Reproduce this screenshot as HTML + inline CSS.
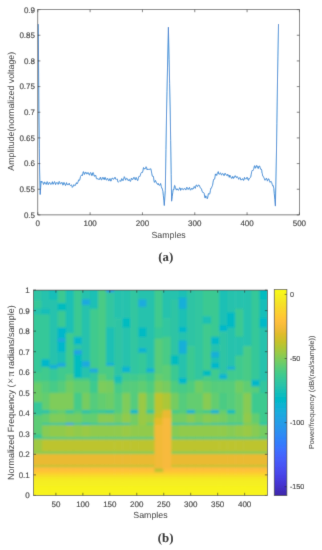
<!DOCTYPE html>
<html><head><meta charset="utf-8"><title>Figure</title>
<style>html,body{margin:0;padding:0;background:#fff;}body{width:322px;height:550px;overflow:hidden;}svg{display:block;text-rendering:geometricPrecision;}</style>
</head><body>
<svg width="322" height="550" viewBox="0 0 322 550"><defs><clipPath id="sclip"><rect x="33.4" y="290.1" width="234.10" height="205.30"/></clipPath><filter id="gblur" filterUnits="userSpaceOnUse" x="0" y="0" width="322" height="550"><feConvolveMatrix order="3" kernelMatrix="0.01000 0.08000 0.01000 0.08000 0.64000 0.08000 0.01000 0.08000 0.01000" edgeMode="duplicate"/></filter><filter id="sblur" x="-5%" y="-5%" width="110%" height="110%"><feGaussianBlur stdDeviation="1.0"/></filter><linearGradient id="cb" x1="0" y1="0" x2="0" y2="1"><stop offset="0.0000" stop-color="#f9fb15"/><stop offset="0.0312" stop-color="#f6ef20"/><stop offset="0.0625" stop-color="#f5e327"/><stop offset="0.0938" stop-color="#f9d62d"/><stop offset="0.1250" stop-color="#feca33"/><stop offset="0.1562" stop-color="#febe3c"/><stop offset="0.1875" stop-color="#f1ba37"/><stop offset="0.2188" stop-color="#debc29"/><stop offset="0.2500" stop-color="#c8c129"/><stop offset="0.2812" stop-color="#afc636"/><stop offset="0.3125" stop-color="#94ca4a"/><stop offset="0.3438" stop-color="#77cc60"/><stop offset="0.3750" stop-color="#5ccc76"/><stop offset="0.4062" stop-color="#43cb8a"/><stop offset="0.4375" stop-color="#34c79c"/><stop offset="0.4688" stop-color="#28c2ab"/><stop offset="0.5000" stop-color="#12beb9"/><stop offset="0.5312" stop-color="#00b9c6"/><stop offset="0.5625" stop-color="#0cb3d3"/><stop offset="0.5938" stop-color="#1aacdd"/><stop offset="0.6250" stop-color="#21a3e3"/><stop offset="0.6562" stop-color="#269ae9"/><stop offset="0.6875" stop-color="#2c90f0"/><stop offset="0.7188" stop-color="#2e85f8"/><stop offset="0.7500" stop-color="#347afd"/><stop offset="0.7812" stop-color="#3f6eff"/><stop offset="0.8125" stop-color="#4562fc"/><stop offset="0.8438" stop-color="#4757f7"/><stop offset="0.8750" stop-color="#484cef"/><stop offset="0.9062" stop-color="#4741e5"/><stop offset="0.9375" stop-color="#4536d5"/><stop offset="0.9688" stop-color="#422ebf"/><stop offset="1.0000" stop-color="#3e26a8"/></linearGradient></defs><g filter="url(#gblur)"><rect width="322" height="550" fill="#fff"/><polyline points="38.30,24.10 38.90,110.00 39.35,148.23 39.60,170.00 39.87,181.02 40.20,194.50 41.10,181.00 41.44,182.25 41.96,181.42 42.49,181.92 43.00,182.48 43.53,184.56 44.05,183.98 44.58,182.02 45.10,182.43 45.62,183.00 46.15,184.45 46.67,182.86 47.19,181.64 47.72,182.65 48.24,184.71 48.76,183.67 49.29,182.42 50.00,182.62 50.33,184.01 50.86,184.54 51.38,183.58 51.90,183.10 52.43,181.71 52.95,184.44 53.47,184.01 54.00,182.53 54.52,181.50 55.04,182.63 55.57,184.77 56.09,183.45 56.61,182.64 57.13,182.43 57.66,183.33 58.18,184.44 58.70,182.67 59.23,181.42 59.75,182.13 60.00,183.61 60.27,183.96 60.80,183.95 61.32,183.06 61.84,182.26 62.37,183.21 62.89,185.20 63.41,184.45 63.94,182.40 64.46,183.10 64.98,184.53 65.51,185.65 66.03,184.25 66.55,182.63 67.08,184.65 67.60,184.67 68.12,184.93 68.65,184.09 69.30,183.16 69.69,184.98 70.22,185.36 70.74,185.63 71.26,184.79 71.78,185.23 72.31,187.40 73.00,186.57 73.35,185.88 73.88,184.63 74.40,185.33 74.92,185.84 75.45,185.38 75.97,183.73 76.49,182.67 77.02,184.00 77.70,182.73 78.06,182.04 78.59,179.92 79.11,180.26 79.63,180.27 80.16,178.07 80.50,176.57 81.20,175.32 81.73,174.93 82.25,175.77 82.77,173.62 83.30,171.60 83.82,172.00 84.34,174.57 84.86,173.65 85.39,172.44 85.91,172.00 86.43,173.89 86.96,173.76 87.48,173.68 88.00,172.45 88.53,173.16 89.05,174.58 89.57,175.22 90.10,173.13 90.62,172.45 91.14,173.28 91.67,175.54 92.19,175.44 92.71,172.79 93.24,172.62 93.50,173.32 93.76,174.40 94.28,176.29 94.81,176.11 95.33,175.00 95.85,175.72 96.38,178.47 96.90,179.13 97.30,178.90 97.94,178.43 98.47,179.08 98.99,179.87 99.51,179.31 100.04,177.95 100.56,177.00 101.08,179.73 101.61,179.97 102.13,178.83 102.65,177.66 102.90,177.16 103.18,177.93 103.70,178.98 104.22,179.73 104.75,177.56 105.27,177.46 105.79,179.21 106.32,180.17 106.84,179.66 107.36,178.15 107.89,178.74 108.41,180.62 108.93,180.83 109.40,180.18 109.98,178.54 110.50,180.77 111.03,181.23 111.55,179.56 112.07,178.08 112.59,178.07 113.12,179.29 113.64,179.14 114.16,178.80 114.69,177.79 115.00,177.10 115.21,177.88 115.73,179.13 116.26,179.41 116.78,178.90 117.30,179.03 117.83,181.81 118.35,182.14 118.70,181.77 119.40,181.08 119.92,180.54 120.44,181.02 120.97,181.41 121.49,178.84 122.01,178.63 122.53,180.13 123.06,180.73 123.58,179.45 124.30,176.67 124.63,177.25 125.15,178.54 125.67,180.16 126.20,178.70 126.72,178.28 127.24,178.56 127.77,179.89 128.29,180.71 128.81,179.70 129.34,179.36 129.90,180.91 130.38,181.50 130.91,180.22 131.43,177.99 131.95,178.77 132.48,179.78 133.00,179.19 133.52,177.62 134.05,177.19 134.57,178.11 135.09,179.77 135.50,179.68 136.14,177.38 136.66,178.43 137.19,180.12 137.71,180.72 138.30,178.53 138.75,176.60 139.28,176.40 139.80,176.63 140.32,175.30 140.85,173.48 141.10,173.02 141.37,172.54 141.89,172.36 142.42,172.54 142.94,170.85 143.46,167.53 143.99,168.00 144.40,168.84 145.03,169.10 145.56,167.74 146.08,166.73 146.70,167.78 147.13,170.01 147.65,169.14 148.17,169.01 148.50,169.44 149.22,169.37 149.74,169.24 150.00,169.32 150.26,168.98 150.79,168.63 151.31,170.93 151.83,173.83 152.36,176.27 152.88,176.20 153.40,176.38 154.10,181.28 154.45,182.38 155.00,181.53 155.50,180.44 156.02,181.85 156.54,183.21 157.07,183.72 157.59,184.45 157.80,183.70 158.11,183.23 158.64,184.85 159.20,185.04 159.68,185.36 160.21,184.23 160.60,183.39 161.25,186.40 161.78,188.00 162.00,187.97 162.30,188.91 162.90,191.40 163.34,195.72 163.87,200.80 164.30,205.53 164.91,196.10 165.30,190.50 165.96,149.57 166.60,110.00 167.01,91.21 167.53,67.06 168.05,42.87 168.40,27.17 169.10,59.22 169.62,83.36 170.20,110.00 170.67,140.62 171.19,174.69 171.60,201.20 172.24,196.57 172.76,192.78 173.20,189.37 173.81,189.90 174.33,186.54 174.60,185.38 174.85,185.62 175.38,187.66 175.90,188.92 176.43,190.11 176.95,188.68 177.40,188.95 177.99,190.16 178.52,190.02 179.04,189.53 179.56,187.71 180.20,188.02 180.61,190.42 181.13,189.51 181.66,188.60 182.18,188.33 182.70,189.19 183.23,189.95 183.75,189.59 184.27,188.25 184.80,188.72 185.32,188.96 185.84,190.07 186.37,188.23 186.89,187.18 187.41,188.70 187.94,189.51 188.46,189.19 188.98,187.95 189.30,187.71 189.50,187.23 190.03,189.19 190.55,190.21 191.20,189.30 191.60,188.43 192.12,188.15 192.64,189.34 193.17,188.96 193.69,187.93 194.21,186.49 194.74,187.51 195.26,188.36 195.78,186.22 196.31,184.92 196.80,185.21 197.35,186.72 197.88,186.25 198.40,185.15 198.92,184.84 199.60,185.77 199.97,187.53 200.49,187.84 201.01,188.22 201.54,188.99 202.06,191.38 202.40,191.50 203.11,192.87 203.63,192.55 204.15,193.21 204.68,196.85 205.20,198.09 205.72,195.78 206.25,196.58 206.77,197.11 207.00,198.03 207.29,198.84 207.82,197.08 208.34,193.77 208.86,193.46 209.39,194.19 209.80,193.79 210.43,190.36 210.96,187.99 211.48,187.91 212.00,186.55 212.60,185.13 213.05,182.19 213.57,179.48 214.09,179.57 214.62,179.14 215.14,176.23 215.40,173.91 215.66,174.63 216.19,174.28 216.71,175.48 217.30,173.48 217.76,172.54 218.28,171.60 218.80,173.99 219.33,174.38 219.85,173.58 220.37,172.73 220.90,173.70 221.42,175.07 221.94,174.74 222.47,173.41 222.90,173.77 223.51,174.11 224.04,175.75 224.56,174.57 225.08,173.16 225.61,173.97 226.13,174.98 226.65,175.35 227.18,175.84 227.70,174.20 228.40,175.59 228.75,175.63 229.27,177.35 229.79,175.07 230.31,176.06 230.84,176.92 231.36,178.25 231.88,178.31 232.20,178.22 232.41,176.63 232.93,176.37 233.45,178.30 233.98,178.18 234.50,176.60 235.02,175.55 235.55,176.06 235.90,177.22 236.59,177.72 237.12,176.48 237.64,177.14 238.16,177.94 238.70,179.34 239.21,178.17 239.73,177.54 240.25,177.83 240.78,179.98 241.50,179.71 241.82,179.79 242.35,178.63 242.87,178.98 243.39,180.36 243.92,180.23 244.44,177.30 244.96,178.34 245.49,178.96 246.20,178.96 246.53,178.67 247.06,177.12 247.58,178.28 248.10,180.04 248.63,180.36 249.15,178.03 249.50,178.48 250.20,177.77 250.72,177.02 251.24,174.18 251.80,171.24 252.29,170.31 252.81,170.82 253.34,169.78 253.86,168.41 254.38,165.92 254.60,165.64 254.91,166.18 255.43,168.26 255.95,167.38 256.40,165.58 257.00,165.51 257.52,167.41 258.04,168.50 258.30,168.55 258.57,167.03 259.09,165.98 259.61,166.00 260.20,167.93 260.66,169.24 261.18,169.00 261.71,170.11 262.00,172.98 262.23,173.39 262.75,176.09 263.28,176.32 263.90,177.76 264.32,178.60 264.85,180.25 265.37,180.03 265.89,179.29 266.42,177.99 266.70,178.95 266.94,179.39 267.46,181.13 267.99,180.00 268.51,178.68 269.03,179.35 269.50,180.62 270.08,182.36 270.60,181.51 271.12,181.36 271.65,182.53 272.30,184.68 272.69,185.90 273.22,185.48 273.80,188.40 274.26,193.52 274.79,199.31 275.40,206.10 275.83,184.02 276.50,150.00 276.88,123.47 277.50,80.00 277.93,56.14 278.50,24.00" fill="none" stroke="#0a70cc" stroke-width="0.8" stroke-linejoin="round"/><rect x="37.8" y="9.6" width="261.60" height="205.30" fill="none" stroke="#262626" stroke-width="0.6"/><g stroke="#262626" stroke-width="0.6"><line x1="37.8" y1="214.90" x2="40.4" y2="214.90"/><line x1="299.4" y1="214.90" x2="296.79999999999995" y2="214.90"/><line x1="37.8" y1="189.24" x2="40.4" y2="189.24"/><line x1="299.4" y1="189.24" x2="296.79999999999995" y2="189.24"/><line x1="37.8" y1="163.58" x2="40.4" y2="163.58"/><line x1="299.4" y1="163.58" x2="296.79999999999995" y2="163.58"/><line x1="37.8" y1="137.91" x2="40.4" y2="137.91"/><line x1="299.4" y1="137.91" x2="296.79999999999995" y2="137.91"/><line x1="37.8" y1="112.25" x2="40.4" y2="112.25"/><line x1="299.4" y1="112.25" x2="296.79999999999995" y2="112.25"/><line x1="37.8" y1="86.59" x2="40.4" y2="86.59"/><line x1="299.4" y1="86.59" x2="296.79999999999995" y2="86.59"/><line x1="37.8" y1="60.92" x2="40.4" y2="60.92"/><line x1="299.4" y1="60.92" x2="296.79999999999995" y2="60.92"/><line x1="37.8" y1="35.26" x2="40.4" y2="35.26"/><line x1="299.4" y1="35.26" x2="296.79999999999995" y2="35.26"/><line x1="37.8" y1="9.60" x2="40.4" y2="9.60"/><line x1="299.4" y1="9.60" x2="296.79999999999995" y2="9.60"/><line x1="37.80" y1="214.9" x2="37.80" y2="212.3"/><line x1="37.80" y1="9.6" x2="37.80" y2="12.2"/><line x1="90.12" y1="214.9" x2="90.12" y2="212.3"/><line x1="90.12" y1="9.6" x2="90.12" y2="12.2"/><line x1="142.44" y1="214.9" x2="142.44" y2="212.3"/><line x1="142.44" y1="9.6" x2="142.44" y2="12.2"/><line x1="194.76" y1="214.9" x2="194.76" y2="212.3"/><line x1="194.76" y1="9.6" x2="194.76" y2="12.2"/><line x1="247.08" y1="214.9" x2="247.08" y2="212.3"/><line x1="247.08" y1="9.6" x2="247.08" y2="12.2"/><line x1="299.40" y1="214.9" x2="299.40" y2="212.3"/><line x1="299.40" y1="9.6" x2="299.40" y2="12.2"/></g><g style="font-family:'Liberation Sans',Arial,Helvetica,sans-serif;stroke:#262626;stroke-width:0.12px;font-size:8px" fill="#262626"><text x="35" y="217.80" text-anchor="end">0.5</text><text x="35" y="192.14" text-anchor="end">0.55</text><text x="35" y="166.48" text-anchor="end">0.6</text><text x="35" y="140.81" text-anchor="end">0.65</text><text x="35" y="115.15" text-anchor="end">0.7</text><text x="35" y="89.49" text-anchor="end">0.75</text><text x="35" y="63.82" text-anchor="end">0.8</text><text x="35" y="38.16" text-anchor="end">0.85</text><text x="35" y="12.50" text-anchor="end">0.9</text><text x="37.80" y="226" text-anchor="middle">0</text><text x="90.12" y="226" text-anchor="middle">100</text><text x="142.44" y="226" text-anchor="middle">200</text><text x="194.76" y="226" text-anchor="middle">300</text><text x="247.08" y="226" text-anchor="middle">400</text><text x="299.40" y="226" text-anchor="middle">500</text></g><text x="168.6" y="238" text-anchor="middle" style="font-family:'Liberation Sans',Arial,Helvetica,sans-serif;font-size:8.8px" fill="#262626">Samples</text><text transform="translate(14.3,111.3) rotate(-90)" text-anchor="middle" style="font-family:'Liberation Sans',Arial,Helvetica,sans-serif;font-size:8.8px" fill="#262626">Amplitude(normalized voltage)</text><text x="165.8" y="260.5" text-anchor="middle" style="font-family:'Liberation Serif',serif;font-weight:bold;font-size:12.8px" fill="#000">(a)</text><g clip-path="url(#sclip)"><g filter="url(#sblur)"><rect x="30.40" y="287.10" width="11.67" height="13.80" fill="#2ec4a4"/>
<rect x="30.40" y="300.30" width="11.67" height="9.03" fill="#36c899"/>
<rect x="30.40" y="308.73" width="11.67" height="6.22" fill="#26c2ad"/>
<rect x="30.40" y="314.34" width="11.67" height="58.65" fill="#36c899"/>
<rect x="30.40" y="372.40" width="11.67" height="9.20" fill="#43cb8a"/>
<rect x="30.40" y="381.00" width="11.67" height="3.23" fill="#5bcc77"/>
<rect x="30.40" y="383.63" width="11.67" height="9.87" fill="#6bcd69"/>
<rect x="30.40" y="392.90" width="11.67" height="17.70" fill="#64cd6f"/>
<rect x="30.40" y="410.00" width="11.67" height="4.10" fill="#3eca8f"/>
<rect x="30.40" y="413.50" width="11.67" height="10.10" fill="#64cd6f"/>
<rect x="30.40" y="423.00" width="11.67" height="2.60" fill="#64cd6f"/>
<rect x="30.40" y="425.00" width="11.67" height="12.90" fill="#64cd6f"/>
<rect x="30.40" y="437.30" width="11.67" height="2.60" fill="#41ca8c"/>
<rect x="30.40" y="439.30" width="11.67" height="12.80" fill="#bdc42e"/>
<rect x="30.40" y="451.50" width="11.67" height="3.10" fill="#7fcc5a"/>
<rect x="30.40" y="454.00" width="11.67" height="11.80" fill="#eaba30"/>
<rect x="30.40" y="465.20" width="11.67" height="2.50" fill="#b9c431"/>
<rect x="30.40" y="467.10" width="11.67" height="3.50" fill="#febd3d"/>
<rect x="30.40" y="470.00" width="11.67" height="2.60" fill="#fec239"/>
<rect x="30.40" y="472.00" width="11.67" height="2.60" fill="#fdcc32"/>
<rect x="30.40" y="474.00" width="11.67" height="2.60" fill="#f9d82c"/>
<rect x="30.40" y="476.00" width="11.67" height="2.60" fill="#f5e227"/>
<rect x="30.40" y="478.00" width="11.67" height="3.60" fill="#f5ea24"/>
<rect x="30.40" y="481.00" width="11.67" height="5.60" fill="#f5ef20"/>
<rect x="30.40" y="486.00" width="11.67" height="13.00" fill="#f7f31d"/>
<rect x="41.47" y="287.10" width="8.67" height="22.23" fill="#26c2ad"/>
<rect x="41.47" y="308.73" width="8.67" height="6.22" fill="#13beb9"/>
<rect x="41.47" y="314.34" width="8.67" height="45.54" fill="#36c899"/>
<rect x="41.47" y="359.29" width="8.67" height="8.09" fill="#02b7cc"/>
<rect x="41.47" y="366.78" width="8.67" height="14.82" fill="#3fca8e"/>
<rect x="41.47" y="381.00" width="8.67" height="12.50" fill="#56cc7b"/>
<rect x="41.47" y="392.90" width="8.67" height="17.70" fill="#64cd6f"/>
<rect x="41.47" y="410.00" width="8.67" height="4.10" fill="#2ac3a9"/>
<rect x="41.47" y="413.50" width="8.67" height="10.10" fill="#64cd6f"/>
<rect x="41.47" y="423.00" width="8.67" height="2.60" fill="#31c6a0"/>
<rect x="41.47" y="425.00" width="8.67" height="12.90" fill="#88cb53"/>
<rect x="41.47" y="437.30" width="8.67" height="2.60" fill="#41ca8c"/>
<rect x="41.47" y="439.30" width="8.67" height="12.80" fill="#bdc42e"/>
<rect x="41.47" y="451.50" width="8.67" height="3.10" fill="#7fcc5a"/>
<rect x="41.47" y="454.00" width="8.67" height="11.80" fill="#eaba30"/>
<rect x="41.47" y="465.20" width="8.67" height="2.50" fill="#b9c431"/>
<rect x="41.47" y="467.10" width="8.67" height="3.50" fill="#febd3d"/>
<rect x="41.47" y="470.00" width="8.67" height="2.60" fill="#fec239"/>
<rect x="41.47" y="472.00" width="8.67" height="2.60" fill="#fdcc32"/>
<rect x="41.47" y="474.00" width="8.67" height="2.60" fill="#f9d82c"/>
<rect x="41.47" y="476.00" width="8.67" height="2.60" fill="#f5e227"/>
<rect x="41.47" y="478.00" width="8.67" height="3.60" fill="#f5ea24"/>
<rect x="41.47" y="481.00" width="8.67" height="5.60" fill="#f5ef20"/>
<rect x="41.47" y="486.00" width="8.67" height="13.00" fill="#f7f31d"/>
<rect x="49.54" y="287.10" width="8.67" height="12.86" fill="#13beb9"/>
<rect x="49.54" y="299.36" width="8.67" height="66.14" fill="#26c2ad"/>
<rect x="49.54" y="364.91" width="8.67" height="4.35" fill="#16afd9"/>
<rect x="49.54" y="368.65" width="8.67" height="12.95" fill="#36c899"/>
<rect x="49.54" y="381.00" width="8.67" height="12.50" fill="#46cb88"/>
<rect x="49.54" y="392.90" width="8.67" height="17.70" fill="#7fcc5a"/>
<rect x="49.54" y="410.00" width="8.67" height="4.10" fill="#54cc7d"/>
<rect x="49.54" y="413.50" width="8.67" height="10.10" fill="#7fcc5a"/>
<rect x="49.54" y="423.00" width="8.67" height="2.60" fill="#31c6a0"/>
<rect x="49.54" y="425.00" width="8.67" height="12.90" fill="#91ca4c"/>
<rect x="49.54" y="437.30" width="8.67" height="2.60" fill="#41ca8c"/>
<rect x="49.54" y="439.30" width="8.67" height="12.80" fill="#bdc42e"/>
<rect x="49.54" y="451.50" width="8.67" height="3.10" fill="#7fcc5a"/>
<rect x="49.54" y="454.00" width="8.67" height="11.80" fill="#eaba30"/>
<rect x="49.54" y="465.20" width="8.67" height="2.50" fill="#b9c431"/>
<rect x="49.54" y="467.10" width="8.67" height="3.50" fill="#febd3d"/>
<rect x="49.54" y="470.00" width="8.67" height="2.60" fill="#fec239"/>
<rect x="49.54" y="472.00" width="8.67" height="2.60" fill="#fdcc32"/>
<rect x="49.54" y="474.00" width="8.67" height="2.60" fill="#f9d82c"/>
<rect x="49.54" y="476.00" width="8.67" height="2.60" fill="#f5e227"/>
<rect x="49.54" y="478.00" width="8.67" height="3.60" fill="#f5ea24"/>
<rect x="49.54" y="481.00" width="8.67" height="5.60" fill="#f5ef20"/>
<rect x="49.54" y="486.00" width="8.67" height="13.00" fill="#f7f31d"/>
<rect x="57.62" y="287.10" width="8.67" height="16.61" fill="#3bc992"/>
<rect x="57.62" y="303.11" width="8.67" height="8.09" fill="#05bcc0"/>
<rect x="57.62" y="310.60" width="8.67" height="17.45" fill="#3bc992"/>
<rect x="57.62" y="327.45" width="8.67" height="11.84" fill="#02b7cc"/>
<rect x="57.62" y="338.69" width="8.67" height="3.41" fill="#21a3e3"/>
<rect x="57.62" y="341.50" width="8.67" height="10.90" fill="#02b7cc"/>
<rect x="57.62" y="351.80" width="8.67" height="11.84" fill="#1ac0b5"/>
<rect x="57.62" y="363.03" width="8.67" height="4.35" fill="#1da8e0"/>
<rect x="57.62" y="366.78" width="8.67" height="14.82" fill="#3fca8e"/>
<rect x="57.62" y="381.00" width="8.67" height="12.50" fill="#56cc7b"/>
<rect x="57.62" y="392.90" width="8.67" height="17.70" fill="#7fcc5a"/>
<rect x="57.62" y="410.00" width="8.67" height="4.10" fill="#64cd6f"/>
<rect x="57.62" y="413.50" width="8.67" height="10.10" fill="#7fcc5a"/>
<rect x="57.62" y="423.00" width="8.67" height="2.60" fill="#2ac3a9"/>
<rect x="57.62" y="425.00" width="8.67" height="12.90" fill="#91ca4c"/>
<rect x="57.62" y="437.30" width="8.67" height="2.60" fill="#41ca8c"/>
<rect x="57.62" y="439.30" width="8.67" height="12.80" fill="#bdc42e"/>
<rect x="57.62" y="451.50" width="8.67" height="3.10" fill="#7fcc5a"/>
<rect x="57.62" y="454.00" width="8.67" height="11.80" fill="#eaba30"/>
<rect x="57.62" y="465.20" width="8.67" height="2.50" fill="#b9c431"/>
<rect x="57.62" y="467.10" width="8.67" height="3.50" fill="#febd3d"/>
<rect x="57.62" y="470.00" width="8.67" height="2.60" fill="#fec239"/>
<rect x="57.62" y="472.00" width="8.67" height="2.60" fill="#fdcc32"/>
<rect x="57.62" y="474.00" width="8.67" height="2.60" fill="#f9d82c"/>
<rect x="57.62" y="476.00" width="8.67" height="2.60" fill="#f5e227"/>
<rect x="57.62" y="478.00" width="8.67" height="3.60" fill="#f5ea24"/>
<rect x="57.62" y="481.00" width="8.67" height="5.60" fill="#f5ef20"/>
<rect x="57.62" y="486.00" width="8.67" height="13.00" fill="#f7f31d"/>
<rect x="65.69" y="287.10" width="8.67" height="46.57" fill="#1ac0b5"/>
<rect x="65.69" y="333.07" width="8.67" height="41.80" fill="#3fca8e"/>
<rect x="65.69" y="374.27" width="8.67" height="7.33" fill="#58cc79"/>
<rect x="65.69" y="381.00" width="8.67" height="12.50" fill="#71cd64"/>
<rect x="65.69" y="392.90" width="8.67" height="17.70" fill="#7fcc5a"/>
<rect x="65.69" y="410.00" width="8.67" height="4.10" fill="#31c6a0"/>
<rect x="65.69" y="413.50" width="8.67" height="10.10" fill="#76cc61"/>
<rect x="65.69" y="423.00" width="8.67" height="2.60" fill="#1fa6e2"/>
<rect x="65.69" y="425.00" width="8.67" height="12.90" fill="#9ac945"/>
<rect x="65.69" y="437.30" width="8.67" height="2.60" fill="#41ca8c"/>
<rect x="65.69" y="439.30" width="8.67" height="12.80" fill="#bdc42e"/>
<rect x="65.69" y="451.50" width="8.67" height="3.10" fill="#7fcc5a"/>
<rect x="65.69" y="454.00" width="8.67" height="11.80" fill="#eaba30"/>
<rect x="65.69" y="465.20" width="8.67" height="2.50" fill="#b9c431"/>
<rect x="65.69" y="467.10" width="8.67" height="3.50" fill="#febd3d"/>
<rect x="65.69" y="470.00" width="8.67" height="2.60" fill="#fec239"/>
<rect x="65.69" y="472.00" width="8.67" height="2.60" fill="#fdcc32"/>
<rect x="65.69" y="474.00" width="8.67" height="2.60" fill="#f9d82c"/>
<rect x="65.69" y="476.00" width="8.67" height="2.60" fill="#f5e227"/>
<rect x="65.69" y="478.00" width="8.67" height="3.60" fill="#f5ea24"/>
<rect x="65.69" y="481.00" width="8.67" height="5.60" fill="#f5ef20"/>
<rect x="65.69" y="486.00" width="8.67" height="13.00" fill="#f7f31d"/>
<rect x="73.76" y="287.10" width="8.67" height="50.32" fill="#3bc992"/>
<rect x="73.76" y="336.82" width="8.67" height="8.09" fill="#02b7cc"/>
<rect x="73.76" y="344.31" width="8.67" height="6.22" fill="#2ec4a4"/>
<rect x="73.76" y="349.93" width="8.67" height="5.28" fill="#21a3e3"/>
<rect x="73.76" y="354.61" width="8.67" height="24.01" fill="#05bcc0"/>
<rect x="73.76" y="378.01" width="8.67" height="3.59" fill="#48cb86"/>
<rect x="73.76" y="381.00" width="8.67" height="12.50" fill="#60cd72"/>
<rect x="73.76" y="392.90" width="8.67" height="17.70" fill="#44cb89"/>
<rect x="73.76" y="410.00" width="8.67" height="4.10" fill="#54cc7d"/>
<rect x="73.76" y="413.50" width="8.67" height="10.10" fill="#76cc61"/>
<rect x="73.76" y="423.00" width="8.67" height="2.60" fill="#31c6a0"/>
<rect x="73.76" y="425.00" width="8.67" height="12.90" fill="#91ca4c"/>
<rect x="73.76" y="437.30" width="8.67" height="2.60" fill="#41ca8c"/>
<rect x="73.76" y="439.30" width="8.67" height="12.80" fill="#bdc42e"/>
<rect x="73.76" y="451.50" width="8.67" height="3.10" fill="#7fcc5a"/>
<rect x="73.76" y="454.00" width="8.67" height="11.80" fill="#eaba30"/>
<rect x="73.76" y="465.20" width="8.67" height="2.50" fill="#b9c431"/>
<rect x="73.76" y="467.10" width="8.67" height="3.50" fill="#febd3d"/>
<rect x="73.76" y="470.00" width="8.67" height="2.60" fill="#fec239"/>
<rect x="73.76" y="472.00" width="8.67" height="2.60" fill="#fdcc32"/>
<rect x="73.76" y="474.00" width="8.67" height="2.60" fill="#f9d82c"/>
<rect x="73.76" y="476.00" width="8.67" height="2.60" fill="#f5e227"/>
<rect x="73.76" y="478.00" width="8.67" height="3.60" fill="#f5ea24"/>
<rect x="73.76" y="481.00" width="8.67" height="5.60" fill="#f5ef20"/>
<rect x="73.76" y="486.00" width="8.67" height="13.00" fill="#f7f31d"/>
<rect x="81.83" y="287.10" width="8.67" height="12.86" fill="#26c2ad"/>
<rect x="81.83" y="299.36" width="8.67" height="6.22" fill="#1da8e0"/>
<rect x="81.83" y="304.98" width="8.67" height="56.78" fill="#26c2ad"/>
<rect x="81.83" y="361.16" width="8.67" height="6.22" fill="#1da8e0"/>
<rect x="81.83" y="366.78" width="8.67" height="11.84" fill="#26c2ad"/>
<rect x="81.83" y="378.01" width="8.67" height="3.59" fill="#48cb86"/>
<rect x="81.83" y="381.00" width="8.67" height="12.50" fill="#60cd72"/>
<rect x="81.83" y="392.90" width="8.67" height="17.70" fill="#76cc61"/>
<rect x="81.83" y="410.00" width="8.67" height="4.10" fill="#2ac3a9"/>
<rect x="81.83" y="413.50" width="8.67" height="10.10" fill="#64cd6f"/>
<rect x="81.83" y="423.00" width="8.67" height="2.60" fill="#06bcc0"/>
<rect x="81.83" y="425.00" width="8.67" height="12.90" fill="#9ac945"/>
<rect x="81.83" y="437.30" width="8.67" height="2.60" fill="#41ca8c"/>
<rect x="81.83" y="439.30" width="8.67" height="12.80" fill="#bdc42e"/>
<rect x="81.83" y="451.50" width="8.67" height="3.10" fill="#7fcc5a"/>
<rect x="81.83" y="454.00" width="8.67" height="11.80" fill="#eaba30"/>
<rect x="81.83" y="465.20" width="8.67" height="2.50" fill="#b9c431"/>
<rect x="81.83" y="467.10" width="8.67" height="3.50" fill="#febd3d"/>
<rect x="81.83" y="470.00" width="8.67" height="2.60" fill="#fec239"/>
<rect x="81.83" y="472.00" width="8.67" height="2.60" fill="#fdcc32"/>
<rect x="81.83" y="474.00" width="8.67" height="2.60" fill="#f9d82c"/>
<rect x="81.83" y="476.00" width="8.67" height="2.60" fill="#f5e227"/>
<rect x="81.83" y="478.00" width="8.67" height="3.60" fill="#f5ea24"/>
<rect x="81.83" y="481.00" width="8.67" height="5.60" fill="#f5ef20"/>
<rect x="81.83" y="486.00" width="8.67" height="13.00" fill="#f7f31d"/>
<rect x="89.91" y="287.10" width="8.67" height="22.23" fill="#1ac0b5"/>
<rect x="89.91" y="308.73" width="8.67" height="60.53" fill="#3fca8e"/>
<rect x="89.91" y="368.65" width="8.67" height="4.35" fill="#1da8e0"/>
<rect x="89.91" y="372.40" width="8.67" height="9.20" fill="#31c6a0"/>
<rect x="89.91" y="381.00" width="8.67" height="12.50" fill="#3eca8f"/>
<rect x="89.91" y="392.90" width="8.67" height="17.70" fill="#54cc7d"/>
<rect x="89.91" y="410.00" width="8.67" height="4.10" fill="#3eca8f"/>
<rect x="89.91" y="413.50" width="8.67" height="10.10" fill="#64cd6f"/>
<rect x="89.91" y="423.00" width="8.67" height="2.60" fill="#31c6a0"/>
<rect x="89.91" y="425.00" width="8.67" height="12.90" fill="#91ca4c"/>
<rect x="89.91" y="437.30" width="8.67" height="2.60" fill="#41ca8c"/>
<rect x="89.91" y="439.30" width="8.67" height="12.80" fill="#bdc42e"/>
<rect x="89.91" y="451.50" width="8.67" height="3.10" fill="#7fcc5a"/>
<rect x="89.91" y="454.00" width="8.67" height="11.80" fill="#eaba30"/>
<rect x="89.91" y="465.20" width="8.67" height="2.50" fill="#b9c431"/>
<rect x="89.91" y="467.10" width="8.67" height="3.50" fill="#febd3d"/>
<rect x="89.91" y="470.00" width="8.67" height="2.60" fill="#fec239"/>
<rect x="89.91" y="472.00" width="8.67" height="2.60" fill="#fdcc32"/>
<rect x="89.91" y="474.00" width="8.67" height="2.60" fill="#f9d82c"/>
<rect x="89.91" y="476.00" width="8.67" height="2.60" fill="#f5e227"/>
<rect x="89.91" y="478.00" width="8.67" height="3.60" fill="#f5ea24"/>
<rect x="89.91" y="481.00" width="8.67" height="5.60" fill="#f5ef20"/>
<rect x="89.91" y="486.00" width="8.67" height="13.00" fill="#f7f31d"/>
<rect x="97.98" y="287.10" width="8.67" height="87.77" fill="#48cb86"/>
<rect x="97.98" y="374.27" width="8.67" height="7.33" fill="#62cd70"/>
<rect x="97.98" y="381.00" width="8.67" height="12.50" fill="#7dcc5b"/>
<rect x="97.98" y="392.90" width="8.67" height="17.70" fill="#64cd6f"/>
<rect x="97.98" y="410.00" width="8.67" height="4.10" fill="#35c79b"/>
<rect x="97.98" y="413.50" width="8.67" height="10.10" fill="#88cb53"/>
<rect x="97.98" y="423.00" width="8.67" height="2.60" fill="#31c6a0"/>
<rect x="97.98" y="425.00" width="8.67" height="12.90" fill="#91ca4c"/>
<rect x="97.98" y="437.30" width="8.67" height="2.60" fill="#41ca8c"/>
<rect x="97.98" y="439.30" width="8.67" height="12.80" fill="#bdc42e"/>
<rect x="97.98" y="451.50" width="8.67" height="3.10" fill="#7fcc5a"/>
<rect x="97.98" y="454.00" width="8.67" height="11.80" fill="#eaba30"/>
<rect x="97.98" y="465.20" width="8.67" height="2.50" fill="#b9c431"/>
<rect x="97.98" y="467.10" width="8.67" height="3.50" fill="#febd3d"/>
<rect x="97.98" y="470.00" width="8.67" height="2.60" fill="#fec239"/>
<rect x="97.98" y="472.00" width="8.67" height="2.60" fill="#fdcc32"/>
<rect x="97.98" y="474.00" width="8.67" height="2.60" fill="#f9d82c"/>
<rect x="97.98" y="476.00" width="8.67" height="2.60" fill="#f5e227"/>
<rect x="97.98" y="478.00" width="8.67" height="3.60" fill="#f5ea24"/>
<rect x="97.98" y="481.00" width="8.67" height="5.60" fill="#f5ef20"/>
<rect x="97.98" y="486.00" width="8.67" height="13.00" fill="#f7f31d"/>
<rect x="106.05" y="287.10" width="8.67" height="5.75" fill="#259be8"/>
<rect x="106.05" y="292.25" width="8.67" height="35.81" fill="#31c6a0"/>
<rect x="106.05" y="327.45" width="8.67" height="36.18" fill="#1ac0b5"/>
<rect x="106.05" y="363.03" width="8.67" height="3.41" fill="#16afd9"/>
<rect x="106.05" y="365.84" width="8.67" height="14.64" fill="#48cb86"/>
<rect x="106.05" y="379.89" width="8.67" height="1.71" fill="#5dcd75"/>
<rect x="106.05" y="381.00" width="8.67" height="12.50" fill="#77cc60"/>
<rect x="106.05" y="392.90" width="8.67" height="17.70" fill="#6ccd68"/>
<rect x="106.05" y="410.00" width="8.67" height="4.10" fill="#2ac3a9"/>
<rect x="106.05" y="413.50" width="8.67" height="10.10" fill="#88cb53"/>
<rect x="106.05" y="423.00" width="8.67" height="2.60" fill="#2ac3a9"/>
<rect x="106.05" y="425.00" width="8.67" height="12.90" fill="#91ca4c"/>
<rect x="106.05" y="437.30" width="8.67" height="2.60" fill="#41ca8c"/>
<rect x="106.05" y="439.30" width="8.67" height="12.80" fill="#bdc42e"/>
<rect x="106.05" y="451.50" width="8.67" height="3.10" fill="#7fcc5a"/>
<rect x="106.05" y="454.00" width="8.67" height="11.80" fill="#eaba30"/>
<rect x="106.05" y="465.20" width="8.67" height="2.50" fill="#b9c431"/>
<rect x="106.05" y="467.10" width="8.67" height="3.50" fill="#febd3d"/>
<rect x="106.05" y="470.00" width="8.67" height="2.60" fill="#fec239"/>
<rect x="106.05" y="472.00" width="8.67" height="2.60" fill="#fdcc32"/>
<rect x="106.05" y="474.00" width="8.67" height="2.60" fill="#f9d82c"/>
<rect x="106.05" y="476.00" width="8.67" height="2.60" fill="#f5e227"/>
<rect x="106.05" y="478.00" width="8.67" height="3.60" fill="#f5ea24"/>
<rect x="106.05" y="481.00" width="8.67" height="5.60" fill="#f5ef20"/>
<rect x="106.05" y="486.00" width="8.67" height="13.00" fill="#f7f31d"/>
<rect x="114.12" y="287.10" width="8.67" height="31.59" fill="#26c2ad"/>
<rect x="114.12" y="318.09" width="8.67" height="58.65" fill="#2ec4a4"/>
<rect x="114.12" y="376.14" width="8.67" height="5.46" fill="#13beb9"/>
<rect x="114.12" y="381.00" width="8.67" height="3.23" fill="#28c2ab"/>
<rect x="114.12" y="383.63" width="8.67" height="9.87" fill="#46cb88"/>
<rect x="114.12" y="392.90" width="8.67" height="17.70" fill="#54cc7d"/>
<rect x="114.12" y="410.00" width="8.67" height="4.10" fill="#54cc7d"/>
<rect x="114.12" y="413.50" width="8.67" height="10.10" fill="#76cc61"/>
<rect x="114.12" y="423.00" width="8.67" height="2.60" fill="#31c6a0"/>
<rect x="114.12" y="425.00" width="8.67" height="12.90" fill="#91ca4c"/>
<rect x="114.12" y="437.30" width="8.67" height="2.60" fill="#41ca8c"/>
<rect x="114.12" y="439.30" width="8.67" height="12.80" fill="#bdc42e"/>
<rect x="114.12" y="451.50" width="8.67" height="3.10" fill="#7fcc5a"/>
<rect x="114.12" y="454.00" width="8.67" height="11.80" fill="#eaba30"/>
<rect x="114.12" y="465.20" width="8.67" height="2.50" fill="#b9c431"/>
<rect x="114.12" y="467.10" width="8.67" height="3.50" fill="#febd3d"/>
<rect x="114.12" y="470.00" width="8.67" height="2.60" fill="#fec239"/>
<rect x="114.12" y="472.00" width="8.67" height="2.60" fill="#fdcc32"/>
<rect x="114.12" y="474.00" width="8.67" height="2.60" fill="#f9d82c"/>
<rect x="114.12" y="476.00" width="8.67" height="2.60" fill="#f5e227"/>
<rect x="114.12" y="478.00" width="8.67" height="3.60" fill="#f5ea24"/>
<rect x="114.12" y="481.00" width="8.67" height="5.60" fill="#f5ef20"/>
<rect x="114.12" y="486.00" width="8.67" height="13.00" fill="#f7f31d"/>
<rect x="122.20" y="287.10" width="8.67" height="31.59" fill="#26c2ad"/>
<rect x="122.20" y="318.09" width="8.67" height="9.96" fill="#05bcc0"/>
<rect x="122.20" y="327.45" width="8.67" height="39.93" fill="#26c2ad"/>
<rect x="122.20" y="366.78" width="8.67" height="6.22" fill="#0cb3d3"/>
<rect x="122.20" y="372.40" width="8.67" height="9.20" fill="#3fca8e"/>
<rect x="122.20" y="381.00" width="8.67" height="12.50" fill="#56cc7b"/>
<rect x="122.20" y="392.90" width="8.67" height="17.70" fill="#7fcc5a"/>
<rect x="122.20" y="410.00" width="8.67" height="4.10" fill="#7fcc5a"/>
<rect x="122.20" y="413.50" width="8.67" height="10.10" fill="#91ca4c"/>
<rect x="122.20" y="423.00" width="8.67" height="2.60" fill="#31c6a0"/>
<rect x="122.20" y="425.00" width="8.67" height="12.90" fill="#9ac945"/>
<rect x="122.20" y="437.30" width="8.67" height="2.60" fill="#41ca8c"/>
<rect x="122.20" y="439.30" width="8.67" height="12.80" fill="#bdc42e"/>
<rect x="122.20" y="451.50" width="8.67" height="3.10" fill="#7fcc5a"/>
<rect x="122.20" y="454.00" width="8.67" height="11.80" fill="#eaba30"/>
<rect x="122.20" y="465.20" width="8.67" height="2.50" fill="#b9c431"/>
<rect x="122.20" y="467.10" width="8.67" height="3.50" fill="#febd3d"/>
<rect x="122.20" y="470.00" width="8.67" height="2.60" fill="#fec239"/>
<rect x="122.20" y="472.00" width="8.67" height="2.60" fill="#fdcc32"/>
<rect x="122.20" y="474.00" width="8.67" height="2.60" fill="#f9d82c"/>
<rect x="122.20" y="476.00" width="8.67" height="2.60" fill="#f5e227"/>
<rect x="122.20" y="478.00" width="8.67" height="3.60" fill="#f5ea24"/>
<rect x="122.20" y="481.00" width="8.67" height="5.60" fill="#f5ef20"/>
<rect x="122.20" y="486.00" width="8.67" height="13.00" fill="#f7f31d"/>
<rect x="130.27" y="287.10" width="8.67" height="87.77" fill="#31c6a0"/>
<rect x="130.27" y="374.27" width="8.67" height="7.33" fill="#3fca8e"/>
<rect x="130.27" y="381.00" width="8.67" height="12.50" fill="#56cc7b"/>
<rect x="130.27" y="392.90" width="8.67" height="17.70" fill="#54cc7d"/>
<rect x="130.27" y="410.00" width="8.67" height="4.10" fill="#02b7cc"/>
<rect x="130.27" y="413.50" width="8.67" height="10.10" fill="#76cc61"/>
<rect x="130.27" y="423.00" width="8.67" height="2.60" fill="#64cd6f"/>
<rect x="130.27" y="425.00" width="8.67" height="12.90" fill="#91ca4c"/>
<rect x="130.27" y="437.30" width="8.67" height="2.60" fill="#41ca8c"/>
<rect x="130.27" y="439.30" width="8.67" height="12.80" fill="#bdc42e"/>
<rect x="130.27" y="451.50" width="8.67" height="3.10" fill="#7fcc5a"/>
<rect x="130.27" y="454.00" width="8.67" height="11.80" fill="#eaba30"/>
<rect x="130.27" y="465.20" width="8.67" height="2.50" fill="#b9c431"/>
<rect x="130.27" y="467.10" width="8.67" height="3.50" fill="#febd3d"/>
<rect x="130.27" y="470.00" width="8.67" height="2.60" fill="#fec239"/>
<rect x="130.27" y="472.00" width="8.67" height="2.60" fill="#fdcc32"/>
<rect x="130.27" y="474.00" width="8.67" height="2.60" fill="#f9d82c"/>
<rect x="130.27" y="476.00" width="8.67" height="2.60" fill="#f5e227"/>
<rect x="130.27" y="478.00" width="8.67" height="3.60" fill="#f5ea24"/>
<rect x="130.27" y="481.00" width="8.67" height="5.60" fill="#f5ef20"/>
<rect x="130.27" y="486.00" width="8.67" height="13.00" fill="#f7f31d"/>
<rect x="138.34" y="287.10" width="8.67" height="12.86" fill="#26c2ad"/>
<rect x="138.34" y="299.36" width="8.67" height="8.09" fill="#1babde"/>
<rect x="138.34" y="306.85" width="8.67" height="21.20" fill="#26c2ad"/>
<rect x="138.34" y="327.45" width="8.67" height="9.96" fill="#01bac4"/>
<rect x="138.34" y="336.82" width="8.67" height="11.84" fill="#26c2ad"/>
<rect x="138.34" y="348.05" width="8.67" height="5.28" fill="#0cb3d3"/>
<rect x="138.34" y="352.73" width="8.67" height="22.14" fill="#36c899"/>
<rect x="138.34" y="374.27" width="8.67" height="7.33" fill="#48cb86"/>
<rect x="138.34" y="381.00" width="8.67" height="12.50" fill="#60cd72"/>
<rect x="138.34" y="392.90" width="8.67" height="17.70" fill="#9ac945"/>
<rect x="138.34" y="410.00" width="8.67" height="4.10" fill="#9ac945"/>
<rect x="138.34" y="413.50" width="8.67" height="10.10" fill="#9ac945"/>
<rect x="138.34" y="423.00" width="8.67" height="2.60" fill="#9ac945"/>
<rect x="138.34" y="425.00" width="8.67" height="12.90" fill="#91ca4c"/>
<rect x="138.34" y="437.30" width="8.67" height="2.60" fill="#41ca8c"/>
<rect x="138.34" y="439.30" width="8.67" height="12.80" fill="#bdc42e"/>
<rect x="138.34" y="451.50" width="8.67" height="3.10" fill="#7fcc5a"/>
<rect x="138.34" y="454.00" width="8.67" height="11.80" fill="#eaba30"/>
<rect x="138.34" y="465.20" width="8.67" height="2.50" fill="#b9c431"/>
<rect x="138.34" y="467.10" width="8.67" height="3.50" fill="#febd3d"/>
<rect x="138.34" y="470.00" width="8.67" height="2.60" fill="#fec239"/>
<rect x="138.34" y="472.00" width="8.67" height="2.60" fill="#fdcc32"/>
<rect x="138.34" y="474.00" width="8.67" height="2.60" fill="#f9d82c"/>
<rect x="138.34" y="476.00" width="8.67" height="2.60" fill="#f5e227"/>
<rect x="138.34" y="478.00" width="8.67" height="3.60" fill="#f5ea24"/>
<rect x="138.34" y="481.00" width="8.67" height="5.60" fill="#f5ef20"/>
<rect x="138.34" y="486.00" width="8.67" height="13.00" fill="#f7f31d"/>
<rect x="146.41" y="287.10" width="8.67" height="82.15" fill="#26c2ad"/>
<rect x="146.41" y="368.65" width="8.67" height="4.35" fill="#16afd9"/>
<rect x="146.41" y="372.40" width="8.67" height="9.20" fill="#3bc992"/>
<rect x="146.41" y="381.00" width="8.67" height="12.50" fill="#50cc7f"/>
<rect x="146.41" y="392.90" width="8.67" height="17.70" fill="#64cd6f"/>
<rect x="146.41" y="410.00" width="8.67" height="4.10" fill="#35c79b"/>
<rect x="146.41" y="413.50" width="8.67" height="10.10" fill="#91ca4c"/>
<rect x="146.41" y="423.00" width="8.67" height="2.60" fill="#64cd6f"/>
<rect x="146.41" y="425.00" width="8.67" height="12.90" fill="#91ca4c"/>
<rect x="146.41" y="437.30" width="8.67" height="2.60" fill="#41ca8c"/>
<rect x="146.41" y="439.30" width="8.67" height="12.80" fill="#bdc42e"/>
<rect x="146.41" y="451.50" width="8.67" height="3.10" fill="#7fcc5a"/>
<rect x="146.41" y="454.00" width="8.67" height="11.80" fill="#eaba30"/>
<rect x="146.41" y="465.20" width="8.67" height="2.50" fill="#b9c431"/>
<rect x="146.41" y="467.10" width="8.67" height="3.50" fill="#febd3d"/>
<rect x="146.41" y="470.00" width="8.67" height="2.60" fill="#fec239"/>
<rect x="146.41" y="472.00" width="8.67" height="2.60" fill="#fdcc32"/>
<rect x="146.41" y="474.00" width="8.67" height="2.60" fill="#f9d82c"/>
<rect x="146.41" y="476.00" width="8.67" height="2.60" fill="#f5e227"/>
<rect x="146.41" y="478.00" width="8.67" height="3.60" fill="#f5ea24"/>
<rect x="146.41" y="481.00" width="8.67" height="5.60" fill="#f5ef20"/>
<rect x="146.41" y="486.00" width="8.67" height="13.00" fill="#f7f31d"/>
<rect x="154.49" y="287.10" width="8.67" height="40.95" fill="#3fca8e"/>
<rect x="154.49" y="327.45" width="8.67" height="11.84" fill="#36c899"/>
<rect x="154.49" y="338.69" width="8.67" height="36.18" fill="#58cc79"/>
<rect x="154.49" y="374.27" width="8.67" height="7.33" fill="#68cd6c"/>
<rect x="154.49" y="381.00" width="8.67" height="12.50" fill="#83cc57"/>
<rect x="154.49" y="392.90" width="8.67" height="17.70" fill="#bdc42e"/>
<rect x="154.49" y="410.00" width="8.67" height="4.10" fill="#bdc42e"/>
<rect x="154.49" y="413.50" width="8.67" height="10.10" fill="#ccc028"/>
<rect x="154.49" y="423.00" width="8.67" height="2.60" fill="#dabd28"/>
<rect x="154.49" y="425.00" width="8.67" height="12.90" fill="#e7bb2e"/>
<rect x="154.49" y="437.30" width="8.67" height="2.60" fill="#41ca8c"/>
<rect x="154.49" y="439.30" width="8.67" height="12.80" fill="#bdc42e"/>
<rect x="154.49" y="451.50" width="8.67" height="3.10" fill="#7fcc5a"/>
<rect x="154.49" y="454.00" width="8.67" height="11.80" fill="#eaba30"/>
<rect x="154.49" y="465.20" width="8.67" height="2.50" fill="#b9c431"/>
<rect x="154.49" y="467.10" width="8.67" height="3.50" fill="#febd3d"/>
<rect x="154.49" y="470.00" width="8.67" height="2.60" fill="#fec239"/>
<rect x="154.49" y="472.00" width="8.67" height="2.60" fill="#fdcc32"/>
<rect x="154.49" y="474.00" width="8.67" height="2.60" fill="#f9d82c"/>
<rect x="154.49" y="476.00" width="8.67" height="2.60" fill="#f5e227"/>
<rect x="154.49" y="478.00" width="8.67" height="3.60" fill="#f5ea24"/>
<rect x="154.49" y="481.00" width="8.67" height="5.60" fill="#f5ef20"/>
<rect x="154.49" y="486.00" width="8.67" height="13.00" fill="#f7f31d"/>
<rect x="162.56" y="287.10" width="8.67" height="31.59" fill="#26c2ad"/>
<rect x="162.56" y="318.09" width="8.67" height="19.33" fill="#31c6a0"/>
<rect x="162.56" y="336.82" width="8.67" height="28.69" fill="#48cb86"/>
<rect x="162.56" y="364.91" width="8.67" height="16.69" fill="#5dcd75"/>
<rect x="162.56" y="381.00" width="8.67" height="12.50" fill="#77cc60"/>
<rect x="162.56" y="392.90" width="8.67" height="17.70" fill="#acc738"/>
<rect x="162.56" y="410.00" width="8.67" height="4.10" fill="#bdc42e"/>
<rect x="162.56" y="413.50" width="8.67" height="10.10" fill="#f2ba39"/>
<rect x="162.56" y="423.00" width="8.67" height="2.60" fill="#f8ba3d"/>
<rect x="162.56" y="425.00" width="8.67" height="12.90" fill="#f2ba39"/>
<rect x="162.56" y="437.30" width="8.67" height="2.60" fill="#41ca8c"/>
<rect x="162.56" y="439.30" width="8.67" height="12.80" fill="#bdc42e"/>
<rect x="162.56" y="451.50" width="8.67" height="3.10" fill="#7fcc5a"/>
<rect x="162.56" y="454.00" width="8.67" height="11.80" fill="#eaba30"/>
<rect x="162.56" y="465.20" width="8.67" height="2.50" fill="#b9c431"/>
<rect x="162.56" y="467.10" width="8.67" height="3.50" fill="#febd3d"/>
<rect x="162.56" y="470.00" width="8.67" height="2.60" fill="#fec239"/>
<rect x="162.56" y="472.00" width="8.67" height="2.60" fill="#fdcc32"/>
<rect x="162.56" y="474.00" width="8.67" height="2.60" fill="#f9d82c"/>
<rect x="162.56" y="476.00" width="8.67" height="2.60" fill="#f5e227"/>
<rect x="162.56" y="478.00" width="8.67" height="3.60" fill="#f5ea24"/>
<rect x="162.56" y="481.00" width="8.67" height="5.60" fill="#f5ef20"/>
<rect x="162.56" y="486.00" width="8.67" height="13.00" fill="#f7f31d"/>
<rect x="170.63" y="287.10" width="8.67" height="12.86" fill="#26c2ad"/>
<rect x="170.63" y="299.36" width="8.67" height="56.78" fill="#2ec4a4"/>
<rect x="170.63" y="355.54" width="8.67" height="9.96" fill="#05bcc0"/>
<rect x="170.63" y="364.91" width="8.67" height="16.69" fill="#3bc992"/>
<rect x="170.63" y="381.00" width="8.67" height="12.50" fill="#50cc7f"/>
<rect x="170.63" y="392.90" width="8.67" height="17.70" fill="#76cc61"/>
<rect x="170.63" y="410.00" width="8.67" height="4.10" fill="#44cb89"/>
<rect x="170.63" y="413.50" width="8.67" height="10.10" fill="#76cc61"/>
<rect x="170.63" y="423.00" width="8.67" height="2.60" fill="#31c6a0"/>
<rect x="170.63" y="425.00" width="8.67" height="12.90" fill="#88cb53"/>
<rect x="170.63" y="437.30" width="8.67" height="2.60" fill="#41ca8c"/>
<rect x="170.63" y="439.30" width="8.67" height="12.80" fill="#bdc42e"/>
<rect x="170.63" y="451.50" width="8.67" height="3.10" fill="#7fcc5a"/>
<rect x="170.63" y="454.00" width="8.67" height="11.80" fill="#eaba30"/>
<rect x="170.63" y="465.20" width="8.67" height="2.50" fill="#b9c431"/>
<rect x="170.63" y="467.10" width="8.67" height="3.50" fill="#febd3d"/>
<rect x="170.63" y="470.00" width="8.67" height="2.60" fill="#fec239"/>
<rect x="170.63" y="472.00" width="8.67" height="2.60" fill="#fdcc32"/>
<rect x="170.63" y="474.00" width="8.67" height="2.60" fill="#f9d82c"/>
<rect x="170.63" y="476.00" width="8.67" height="2.60" fill="#f5e227"/>
<rect x="170.63" y="478.00" width="8.67" height="3.60" fill="#f5ea24"/>
<rect x="170.63" y="481.00" width="8.67" height="5.60" fill="#f5ef20"/>
<rect x="170.63" y="486.00" width="8.67" height="13.00" fill="#f7f31d"/>
<rect x="178.70" y="287.10" width="8.67" height="10.99" fill="#1ac0b5"/>
<rect x="178.70" y="297.49" width="8.67" height="11.84" fill="#16afd9"/>
<rect x="178.70" y="308.73" width="8.67" height="19.33" fill="#1ac0b5"/>
<rect x="178.70" y="327.45" width="8.67" height="5.28" fill="#02b7cc"/>
<rect x="178.70" y="332.13" width="8.67" height="9.03" fill="#26c2ad"/>
<rect x="178.70" y="340.56" width="8.67" height="13.71" fill="#16afd9"/>
<rect x="178.70" y="353.67" width="8.67" height="24.94" fill="#26c2ad"/>
<rect x="178.70" y="378.01" width="8.67" height="6.22" fill="#02b7cc"/>
<rect x="178.70" y="383.63" width="8.67" height="9.87" fill="#46cb88"/>
<rect x="178.70" y="392.90" width="8.67" height="17.70" fill="#54cc7d"/>
<rect x="178.70" y="410.00" width="8.67" height="4.10" fill="#54cc7d"/>
<rect x="178.70" y="413.50" width="8.67" height="10.10" fill="#76cc61"/>
<rect x="178.70" y="423.00" width="8.67" height="2.60" fill="#31c6a0"/>
<rect x="178.70" y="425.00" width="8.67" height="12.90" fill="#91ca4c"/>
<rect x="178.70" y="437.30" width="8.67" height="2.60" fill="#41ca8c"/>
<rect x="178.70" y="439.30" width="8.67" height="12.80" fill="#bdc42e"/>
<rect x="178.70" y="451.50" width="8.67" height="3.10" fill="#7fcc5a"/>
<rect x="178.70" y="454.00" width="8.67" height="11.80" fill="#eaba30"/>
<rect x="178.70" y="465.20" width="8.67" height="2.50" fill="#b9c431"/>
<rect x="178.70" y="467.10" width="8.67" height="3.50" fill="#febd3d"/>
<rect x="178.70" y="470.00" width="8.67" height="2.60" fill="#fec239"/>
<rect x="178.70" y="472.00" width="8.67" height="2.60" fill="#fdcc32"/>
<rect x="178.70" y="474.00" width="8.67" height="2.60" fill="#f9d82c"/>
<rect x="178.70" y="476.00" width="8.67" height="2.60" fill="#f5e227"/>
<rect x="178.70" y="478.00" width="8.67" height="3.60" fill="#f5ea24"/>
<rect x="178.70" y="481.00" width="8.67" height="5.60" fill="#f5ef20"/>
<rect x="178.70" y="486.00" width="8.67" height="13.00" fill="#f7f31d"/>
<rect x="186.78" y="287.10" width="8.67" height="59.68" fill="#2ec4a4"/>
<rect x="186.78" y="346.18" width="8.67" height="35.42" fill="#3bc992"/>
<rect x="186.78" y="381.00" width="8.67" height="12.50" fill="#50cc7f"/>
<rect x="186.78" y="392.90" width="8.67" height="17.70" fill="#64cd6f"/>
<rect x="186.78" y="410.00" width="8.67" height="4.10" fill="#0eb3d4"/>
<rect x="186.78" y="413.50" width="8.67" height="10.10" fill="#88cb53"/>
<rect x="186.78" y="423.00" width="8.67" height="2.60" fill="#31c6a0"/>
<rect x="186.78" y="425.00" width="8.67" height="12.90" fill="#91ca4c"/>
<rect x="186.78" y="437.30" width="8.67" height="2.60" fill="#41ca8c"/>
<rect x="186.78" y="439.30" width="8.67" height="12.80" fill="#bdc42e"/>
<rect x="186.78" y="451.50" width="8.67" height="3.10" fill="#7fcc5a"/>
<rect x="186.78" y="454.00" width="8.67" height="11.80" fill="#eaba30"/>
<rect x="186.78" y="465.20" width="8.67" height="2.50" fill="#b9c431"/>
<rect x="186.78" y="467.10" width="8.67" height="3.50" fill="#febd3d"/>
<rect x="186.78" y="470.00" width="8.67" height="2.60" fill="#fec239"/>
<rect x="186.78" y="472.00" width="8.67" height="2.60" fill="#fdcc32"/>
<rect x="186.78" y="474.00" width="8.67" height="2.60" fill="#f9d82c"/>
<rect x="186.78" y="476.00" width="8.67" height="2.60" fill="#f5e227"/>
<rect x="186.78" y="478.00" width="8.67" height="3.60" fill="#f5ea24"/>
<rect x="186.78" y="481.00" width="8.67" height="5.60" fill="#f5ef20"/>
<rect x="186.78" y="486.00" width="8.67" height="13.00" fill="#f7f31d"/>
<rect x="194.85" y="287.10" width="8.67" height="93.39" fill="#31c6a0"/>
<rect x="194.85" y="379.89" width="8.67" height="1.71" fill="#58cc79"/>
<rect x="194.85" y="381.00" width="8.67" height="12.50" fill="#71cd64"/>
<rect x="194.85" y="392.90" width="8.67" height="17.70" fill="#64cd6f"/>
<rect x="194.85" y="410.00" width="8.67" height="4.10" fill="#54cc7d"/>
<rect x="194.85" y="413.50" width="8.67" height="10.10" fill="#76cc61"/>
<rect x="194.85" y="423.00" width="8.67" height="2.60" fill="#31c6a0"/>
<rect x="194.85" y="425.00" width="8.67" height="12.90" fill="#91ca4c"/>
<rect x="194.85" y="437.30" width="8.67" height="2.60" fill="#41ca8c"/>
<rect x="194.85" y="439.30" width="8.67" height="12.80" fill="#bdc42e"/>
<rect x="194.85" y="451.50" width="8.67" height="3.10" fill="#7fcc5a"/>
<rect x="194.85" y="454.00" width="8.67" height="11.80" fill="#eaba30"/>
<rect x="194.85" y="465.20" width="8.67" height="2.50" fill="#b9c431"/>
<rect x="194.85" y="467.10" width="8.67" height="3.50" fill="#febd3d"/>
<rect x="194.85" y="470.00" width="8.67" height="2.60" fill="#fec239"/>
<rect x="194.85" y="472.00" width="8.67" height="2.60" fill="#fdcc32"/>
<rect x="194.85" y="474.00" width="8.67" height="2.60" fill="#f9d82c"/>
<rect x="194.85" y="476.00" width="8.67" height="2.60" fill="#f5e227"/>
<rect x="194.85" y="478.00" width="8.67" height="3.60" fill="#f5ea24"/>
<rect x="194.85" y="481.00" width="8.67" height="5.60" fill="#f5ef20"/>
<rect x="194.85" y="486.00" width="8.67" height="13.00" fill="#f7f31d"/>
<rect x="202.92" y="287.10" width="8.67" height="29.72" fill="#3bc992"/>
<rect x="202.92" y="316.22" width="8.67" height="8.09" fill="#1ac0b5"/>
<rect x="202.92" y="323.71" width="8.67" height="47.42" fill="#3fca8e"/>
<rect x="202.92" y="370.52" width="8.67" height="6.22" fill="#05bcc0"/>
<rect x="202.92" y="376.14" width="8.67" height="5.46" fill="#48cb86"/>
<rect x="202.92" y="381.00" width="8.67" height="12.50" fill="#60cd72"/>
<rect x="202.92" y="392.90" width="8.67" height="17.70" fill="#88cb53"/>
<rect x="202.92" y="410.00" width="8.67" height="4.10" fill="#3eca8f"/>
<rect x="202.92" y="413.50" width="8.67" height="10.10" fill="#88cb53"/>
<rect x="202.92" y="423.00" width="8.67" height="2.60" fill="#3eca8f"/>
<rect x="202.92" y="425.00" width="8.67" height="12.90" fill="#91ca4c"/>
<rect x="202.92" y="437.30" width="8.67" height="2.60" fill="#41ca8c"/>
<rect x="202.92" y="439.30" width="8.67" height="12.80" fill="#bdc42e"/>
<rect x="202.92" y="451.50" width="8.67" height="3.10" fill="#7fcc5a"/>
<rect x="202.92" y="454.00" width="8.67" height="11.80" fill="#eaba30"/>
<rect x="202.92" y="465.20" width="8.67" height="2.50" fill="#b9c431"/>
<rect x="202.92" y="467.10" width="8.67" height="3.50" fill="#febd3d"/>
<rect x="202.92" y="470.00" width="8.67" height="2.60" fill="#fec239"/>
<rect x="202.92" y="472.00" width="8.67" height="2.60" fill="#fdcc32"/>
<rect x="202.92" y="474.00" width="8.67" height="2.60" fill="#f9d82c"/>
<rect x="202.92" y="476.00" width="8.67" height="2.60" fill="#f5e227"/>
<rect x="202.92" y="478.00" width="8.67" height="3.60" fill="#f5ea24"/>
<rect x="202.92" y="481.00" width="8.67" height="5.60" fill="#f5ef20"/>
<rect x="202.92" y="486.00" width="8.67" height="13.00" fill="#f7f31d"/>
<rect x="210.99" y="287.10" width="8.67" height="50.32" fill="#3bc992"/>
<rect x="210.99" y="336.82" width="8.67" height="8.09" fill="#00b9c8"/>
<rect x="210.99" y="344.31" width="8.67" height="8.09" fill="#26c2ad"/>
<rect x="210.99" y="351.80" width="8.67" height="6.22" fill="#16afd9"/>
<rect x="210.99" y="357.42" width="8.67" height="6.22" fill="#1ac0b5"/>
<rect x="210.99" y="363.03" width="8.67" height="6.22" fill="#02b7cc"/>
<rect x="210.99" y="368.65" width="8.67" height="12.95" fill="#3fca8e"/>
<rect x="210.99" y="381.00" width="8.67" height="12.50" fill="#56cc7b"/>
<rect x="210.99" y="392.90" width="8.67" height="17.70" fill="#64cd6f"/>
<rect x="210.99" y="410.00" width="8.67" height="4.10" fill="#0eb3d4"/>
<rect x="210.99" y="413.50" width="8.67" height="10.10" fill="#7fcc5a"/>
<rect x="210.99" y="423.00" width="8.67" height="2.60" fill="#31c6a0"/>
<rect x="210.99" y="425.00" width="8.67" height="12.90" fill="#91ca4c"/>
<rect x="210.99" y="437.30" width="8.67" height="2.60" fill="#41ca8c"/>
<rect x="210.99" y="439.30" width="8.67" height="12.80" fill="#bdc42e"/>
<rect x="210.99" y="451.50" width="8.67" height="3.10" fill="#7fcc5a"/>
<rect x="210.99" y="454.00" width="8.67" height="11.80" fill="#eaba30"/>
<rect x="210.99" y="465.20" width="8.67" height="2.50" fill="#b9c431"/>
<rect x="210.99" y="467.10" width="8.67" height="3.50" fill="#febd3d"/>
<rect x="210.99" y="470.00" width="8.67" height="2.60" fill="#fec239"/>
<rect x="210.99" y="472.00" width="8.67" height="2.60" fill="#fdcc32"/>
<rect x="210.99" y="474.00" width="8.67" height="2.60" fill="#f9d82c"/>
<rect x="210.99" y="476.00" width="8.67" height="2.60" fill="#f5e227"/>
<rect x="210.99" y="478.00" width="8.67" height="3.60" fill="#f5ea24"/>
<rect x="210.99" y="481.00" width="8.67" height="5.60" fill="#f5ef20"/>
<rect x="210.99" y="486.00" width="8.67" height="13.00" fill="#f7f31d"/>
<rect x="219.07" y="287.10" width="8.67" height="39.08" fill="#1ac0b5"/>
<rect x="219.07" y="325.58" width="8.67" height="6.22" fill="#02b7cc"/>
<rect x="219.07" y="331.20" width="8.67" height="43.67" fill="#2ec4a4"/>
<rect x="219.07" y="374.27" width="8.67" height="5.28" fill="#0cb3d3"/>
<rect x="219.07" y="378.95" width="8.67" height="2.65" fill="#3fca8e"/>
<rect x="219.07" y="381.00" width="8.67" height="12.50" fill="#56cc7b"/>
<rect x="219.07" y="392.90" width="8.67" height="17.70" fill="#4ccb83"/>
<rect x="219.07" y="410.00" width="8.67" height="4.10" fill="#64cd6f"/>
<rect x="219.07" y="413.50" width="8.67" height="10.10" fill="#76cc61"/>
<rect x="219.07" y="423.00" width="8.67" height="2.60" fill="#31c6a0"/>
<rect x="219.07" y="425.00" width="8.67" height="12.90" fill="#91ca4c"/>
<rect x="219.07" y="437.30" width="8.67" height="2.60" fill="#41ca8c"/>
<rect x="219.07" y="439.30" width="8.67" height="12.80" fill="#bdc42e"/>
<rect x="219.07" y="451.50" width="8.67" height="3.10" fill="#7fcc5a"/>
<rect x="219.07" y="454.00" width="8.67" height="11.80" fill="#eaba30"/>
<rect x="219.07" y="465.20" width="8.67" height="2.50" fill="#b9c431"/>
<rect x="219.07" y="467.10" width="8.67" height="3.50" fill="#febd3d"/>
<rect x="219.07" y="470.00" width="8.67" height="2.60" fill="#fec239"/>
<rect x="219.07" y="472.00" width="8.67" height="2.60" fill="#fdcc32"/>
<rect x="219.07" y="474.00" width="8.67" height="2.60" fill="#f9d82c"/>
<rect x="219.07" y="476.00" width="8.67" height="2.60" fill="#f5e227"/>
<rect x="219.07" y="478.00" width="8.67" height="3.60" fill="#f5ea24"/>
<rect x="219.07" y="481.00" width="8.67" height="5.60" fill="#f5ef20"/>
<rect x="219.07" y="486.00" width="8.67" height="13.00" fill="#f7f31d"/>
<rect x="227.14" y="287.10" width="8.67" height="25.97" fill="#26c2ad"/>
<rect x="227.14" y="312.47" width="8.67" height="15.58" fill="#01bac4"/>
<rect x="227.14" y="327.45" width="8.67" height="39.93" fill="#26c2ad"/>
<rect x="227.14" y="366.78" width="8.67" height="3.41" fill="#16afd9"/>
<rect x="227.14" y="369.59" width="8.67" height="12.01" fill="#3fca8e"/>
<rect x="227.14" y="381.00" width="8.67" height="12.50" fill="#56cc7b"/>
<rect x="227.14" y="392.90" width="8.67" height="17.70" fill="#54cc7d"/>
<rect x="227.14" y="410.00" width="8.67" height="4.10" fill="#06bcc0"/>
<rect x="227.14" y="413.50" width="8.67" height="10.10" fill="#64cd6f"/>
<rect x="227.14" y="423.00" width="8.67" height="2.60" fill="#31c6a0"/>
<rect x="227.14" y="425.00" width="8.67" height="12.90" fill="#88cb53"/>
<rect x="227.14" y="437.30" width="8.67" height="2.60" fill="#41ca8c"/>
<rect x="227.14" y="439.30" width="8.67" height="12.80" fill="#bdc42e"/>
<rect x="227.14" y="451.50" width="8.67" height="3.10" fill="#7fcc5a"/>
<rect x="227.14" y="454.00" width="8.67" height="11.80" fill="#eaba30"/>
<rect x="227.14" y="465.20" width="8.67" height="2.50" fill="#b9c431"/>
<rect x="227.14" y="467.10" width="8.67" height="3.50" fill="#febd3d"/>
<rect x="227.14" y="470.00" width="8.67" height="2.60" fill="#fec239"/>
<rect x="227.14" y="472.00" width="8.67" height="2.60" fill="#fdcc32"/>
<rect x="227.14" y="474.00" width="8.67" height="2.60" fill="#f9d82c"/>
<rect x="227.14" y="476.00" width="8.67" height="2.60" fill="#f5e227"/>
<rect x="227.14" y="478.00" width="8.67" height="3.60" fill="#f5ea24"/>
<rect x="227.14" y="481.00" width="8.67" height="5.60" fill="#f5ef20"/>
<rect x="227.14" y="486.00" width="8.67" height="13.00" fill="#f7f31d"/>
<rect x="235.21" y="287.10" width="8.67" height="22.23" fill="#26c2ad"/>
<rect x="235.21" y="308.73" width="8.67" height="28.69" fill="#3bc992"/>
<rect x="235.21" y="336.82" width="8.67" height="19.33" fill="#26c2ad"/>
<rect x="235.21" y="355.54" width="8.67" height="24.94" fill="#3fca8e"/>
<rect x="235.21" y="379.89" width="8.67" height="1.71" fill="#58cc79"/>
<rect x="235.21" y="381.00" width="8.67" height="12.50" fill="#71cd64"/>
<rect x="235.21" y="392.90" width="8.67" height="17.70" fill="#64cd6f"/>
<rect x="235.21" y="410.00" width="8.67" height="4.10" fill="#64cd6f"/>
<rect x="235.21" y="413.50" width="8.67" height="10.10" fill="#64cd6f"/>
<rect x="235.21" y="423.00" width="8.67" height="2.60" fill="#35c79b"/>
<rect x="235.21" y="425.00" width="8.67" height="12.90" fill="#91ca4c"/>
<rect x="235.21" y="437.30" width="8.67" height="2.60" fill="#41ca8c"/>
<rect x="235.21" y="439.30" width="8.67" height="12.80" fill="#bdc42e"/>
<rect x="235.21" y="451.50" width="8.67" height="3.10" fill="#7fcc5a"/>
<rect x="235.21" y="454.00" width="8.67" height="11.80" fill="#eaba30"/>
<rect x="235.21" y="465.20" width="8.67" height="2.50" fill="#b9c431"/>
<rect x="235.21" y="467.10" width="8.67" height="3.50" fill="#febd3d"/>
<rect x="235.21" y="470.00" width="8.67" height="2.60" fill="#fec239"/>
<rect x="235.21" y="472.00" width="8.67" height="2.60" fill="#fdcc32"/>
<rect x="235.21" y="474.00" width="8.67" height="2.60" fill="#f9d82c"/>
<rect x="235.21" y="476.00" width="8.67" height="2.60" fill="#f5e227"/>
<rect x="235.21" y="478.00" width="8.67" height="3.60" fill="#f5ea24"/>
<rect x="235.21" y="481.00" width="8.67" height="5.60" fill="#f5ef20"/>
<rect x="235.21" y="486.00" width="8.67" height="13.00" fill="#f7f31d"/>
<rect x="243.28" y="287.10" width="8.67" height="59.68" fill="#26c2ad"/>
<rect x="243.28" y="346.18" width="8.67" height="35.42" fill="#48cb86"/>
<rect x="243.28" y="381.00" width="8.67" height="12.50" fill="#60cd72"/>
<rect x="243.28" y="392.90" width="8.67" height="17.70" fill="#88cb53"/>
<rect x="243.28" y="410.00" width="8.67" height="4.10" fill="#88cb53"/>
<rect x="243.28" y="413.50" width="8.67" height="10.10" fill="#91ca4c"/>
<rect x="243.28" y="423.00" width="8.67" height="2.60" fill="#76cc61"/>
<rect x="243.28" y="425.00" width="8.67" height="12.90" fill="#9ac945"/>
<rect x="243.28" y="437.30" width="8.67" height="2.60" fill="#41ca8c"/>
<rect x="243.28" y="439.30" width="8.67" height="12.80" fill="#bdc42e"/>
<rect x="243.28" y="451.50" width="8.67" height="3.10" fill="#7fcc5a"/>
<rect x="243.28" y="454.00" width="8.67" height="11.80" fill="#eaba30"/>
<rect x="243.28" y="465.20" width="8.67" height="2.50" fill="#b9c431"/>
<rect x="243.28" y="467.10" width="8.67" height="3.50" fill="#febd3d"/>
<rect x="243.28" y="470.00" width="8.67" height="2.60" fill="#fec239"/>
<rect x="243.28" y="472.00" width="8.67" height="2.60" fill="#fdcc32"/>
<rect x="243.28" y="474.00" width="8.67" height="2.60" fill="#f9d82c"/>
<rect x="243.28" y="476.00" width="8.67" height="2.60" fill="#f5e227"/>
<rect x="243.28" y="478.00" width="8.67" height="3.60" fill="#f5ea24"/>
<rect x="243.28" y="481.00" width="8.67" height="5.60" fill="#f5ef20"/>
<rect x="243.28" y="486.00" width="8.67" height="13.00" fill="#f7f31d"/>
<rect x="251.36" y="287.10" width="8.67" height="93.39" fill="#36c899"/>
<rect x="251.36" y="379.89" width="8.67" height="7.15" fill="#02b7cc"/>
<rect x="251.36" y="386.44" width="8.67" height="7.06" fill="#56cc7b"/>
<rect x="251.36" y="392.90" width="8.67" height="17.70" fill="#3eca8f"/>
<rect x="251.36" y="410.00" width="8.67" height="4.10" fill="#3eca8f"/>
<rect x="251.36" y="413.50" width="8.67" height="10.10" fill="#64cd6f"/>
<rect x="251.36" y="423.00" width="8.67" height="2.60" fill="#76cc61"/>
<rect x="251.36" y="425.00" width="8.67" height="12.90" fill="#88cb53"/>
<rect x="251.36" y="437.30" width="8.67" height="2.60" fill="#41ca8c"/>
<rect x="251.36" y="439.30" width="8.67" height="12.80" fill="#bdc42e"/>
<rect x="251.36" y="451.50" width="8.67" height="3.10" fill="#7fcc5a"/>
<rect x="251.36" y="454.00" width="8.67" height="11.80" fill="#eaba30"/>
<rect x="251.36" y="465.20" width="8.67" height="2.50" fill="#b9c431"/>
<rect x="251.36" y="467.10" width="8.67" height="3.50" fill="#febd3d"/>
<rect x="251.36" y="470.00" width="8.67" height="2.60" fill="#fec239"/>
<rect x="251.36" y="472.00" width="8.67" height="2.60" fill="#fdcc32"/>
<rect x="251.36" y="474.00" width="8.67" height="2.60" fill="#f9d82c"/>
<rect x="251.36" y="476.00" width="8.67" height="2.60" fill="#f5e227"/>
<rect x="251.36" y="478.00" width="8.67" height="3.60" fill="#f5ea24"/>
<rect x="251.36" y="481.00" width="8.67" height="5.60" fill="#f5ef20"/>
<rect x="251.36" y="486.00" width="8.67" height="13.00" fill="#f7f31d"/>
<rect x="259.43" y="287.10" width="11.67" height="12.86" fill="#05bcc0"/>
<rect x="259.43" y="299.36" width="11.67" height="19.33" fill="#13beb9"/>
<rect x="259.43" y="318.09" width="11.67" height="9.96" fill="#00b9c8"/>
<rect x="259.43" y="327.45" width="11.67" height="54.15" fill="#26c2ad"/>
<rect x="259.43" y="381.00" width="11.67" height="12.50" fill="#32c69e"/>
<rect x="259.43" y="392.90" width="11.67" height="17.70" fill="#3eca8f"/>
<rect x="259.43" y="410.00" width="11.67" height="4.10" fill="#3eca8f"/>
<rect x="259.43" y="413.50" width="11.67" height="10.10" fill="#3eca8f"/>
<rect x="259.43" y="423.00" width="11.67" height="2.60" fill="#2ac3a9"/>
<rect x="259.43" y="425.00" width="11.67" height="12.90" fill="#76cc61"/>
<rect x="259.43" y="437.30" width="11.67" height="2.60" fill="#41ca8c"/>
<rect x="259.43" y="439.30" width="11.67" height="12.80" fill="#bdc42e"/>
<rect x="259.43" y="451.50" width="11.67" height="3.10" fill="#7fcc5a"/>
<rect x="259.43" y="454.00" width="11.67" height="11.80" fill="#eaba30"/>
<rect x="259.43" y="465.20" width="11.67" height="2.50" fill="#b9c431"/>
<rect x="259.43" y="467.10" width="11.67" height="3.50" fill="#febd3d"/>
<rect x="259.43" y="470.00" width="11.67" height="2.60" fill="#fec239"/>
<rect x="259.43" y="472.00" width="11.67" height="2.60" fill="#fdcc32"/>
<rect x="259.43" y="474.00" width="11.67" height="2.60" fill="#f9d82c"/>
<rect x="259.43" y="476.00" width="11.67" height="2.60" fill="#f5e227"/>
<rect x="259.43" y="478.00" width="11.67" height="3.60" fill="#f5ea24"/>
<rect x="259.43" y="481.00" width="11.67" height="5.60" fill="#f5ef20"/>
<rect x="259.43" y="486.00" width="11.67" height="13.00" fill="#f7f31d"/>
<rect x="154.49" y="418.00" width="8.67" height="7.60" fill="#e4bb2c"/>
<rect x="154.49" y="425.00" width="8.67" height="44.10" fill="#f2ba39"/>
<rect x="154.49" y="468.50" width="8.67" height="3.60" fill="#b9c431"/>
<rect x="30.40" y="392.90" width="11.67" height="9.70" fill="#6ccd68"/>
<rect x="30.40" y="402.00" width="11.67" height="13.60" fill="#35c79b"/>
<rect x="30.40" y="415.00" width="11.67" height="20.10" fill="#5ccc76"/>
<rect x="30.40" y="434.50" width="11.67" height="5.10" fill="#39c895"/>
<rect x="30.40" y="439.00" width="11.67" height="13.10" fill="#9fc942"/>
<rect x="162.56" y="410.00" width="8.67" height="8.60" fill="#eaba30"/>
<rect x="162.56" y="418.00" width="8.67" height="50.60" fill="#f8ba3d"/></g></g><rect x="33.4" y="290.1" width="234.10" height="205.30" fill="none" stroke="#262626" stroke-width="0.6"/><g stroke="#262626" stroke-width="0.6"><line x1="33.4" y1="495.40" x2="36.0" y2="495.40"/><line x1="267.5" y1="495.40" x2="264.9" y2="495.40"/><line x1="33.4" y1="474.87" x2="36.0" y2="474.87"/><line x1="267.5" y1="474.87" x2="264.9" y2="474.87"/><line x1="33.4" y1="454.34" x2="36.0" y2="454.34"/><line x1="267.5" y1="454.34" x2="264.9" y2="454.34"/><line x1="33.4" y1="433.81" x2="36.0" y2="433.81"/><line x1="267.5" y1="433.81" x2="264.9" y2="433.81"/><line x1="33.4" y1="413.28" x2="36.0" y2="413.28"/><line x1="267.5" y1="413.28" x2="264.9" y2="413.28"/><line x1="33.4" y1="392.75" x2="36.0" y2="392.75"/><line x1="267.5" y1="392.75" x2="264.9" y2="392.75"/><line x1="33.4" y1="372.22" x2="36.0" y2="372.22"/><line x1="267.5" y1="372.22" x2="264.9" y2="372.22"/><line x1="33.4" y1="351.69" x2="36.0" y2="351.69"/><line x1="267.5" y1="351.69" x2="264.9" y2="351.69"/><line x1="33.4" y1="331.16" x2="36.0" y2="331.16"/><line x1="267.5" y1="331.16" x2="264.9" y2="331.16"/><line x1="33.4" y1="310.63" x2="36.0" y2="310.63"/><line x1="267.5" y1="310.63" x2="264.9" y2="310.63"/><line x1="33.4" y1="290.10" x2="36.0" y2="290.10"/><line x1="267.5" y1="290.10" x2="264.9" y2="290.10"/><line x1="55.90" y1="495.4" x2="55.90" y2="492.79999999999995"/><line x1="55.90" y1="290.1" x2="55.90" y2="292.70000000000005"/><line x1="82.86" y1="495.4" x2="82.86" y2="492.79999999999995"/><line x1="82.86" y1="290.1" x2="82.86" y2="292.70000000000005"/><line x1="109.82" y1="495.4" x2="109.82" y2="492.79999999999995"/><line x1="109.82" y1="290.1" x2="109.82" y2="292.70000000000005"/><line x1="136.78" y1="495.4" x2="136.78" y2="492.79999999999995"/><line x1="136.78" y1="290.1" x2="136.78" y2="292.70000000000005"/><line x1="163.74" y1="495.4" x2="163.74" y2="492.79999999999995"/><line x1="163.74" y1="290.1" x2="163.74" y2="292.70000000000005"/><line x1="190.70" y1="495.4" x2="190.70" y2="492.79999999999995"/><line x1="190.70" y1="290.1" x2="190.70" y2="292.70000000000005"/><line x1="217.66" y1="495.4" x2="217.66" y2="492.79999999999995"/><line x1="217.66" y1="290.1" x2="217.66" y2="292.70000000000005"/><line x1="244.62" y1="495.4" x2="244.62" y2="492.79999999999995"/><line x1="244.62" y1="290.1" x2="244.62" y2="292.70000000000005"/></g><g style="font-family:'Liberation Sans',Arial,Helvetica,sans-serif;stroke:#262626;stroke-width:0.12px;font-size:8px" fill="#262626"><text x="29.8" y="498.30" text-anchor="end">0</text><text x="29.8" y="477.77" text-anchor="end">0.1</text><text x="29.8" y="457.24" text-anchor="end">0.2</text><text x="29.8" y="436.71" text-anchor="end">0.3</text><text x="29.8" y="416.18" text-anchor="end">0.4</text><text x="29.8" y="395.65" text-anchor="end">0.5</text><text x="29.8" y="375.12" text-anchor="end">0.6</text><text x="29.8" y="354.59" text-anchor="end">0.7</text><text x="29.8" y="334.06" text-anchor="end">0.8</text><text x="29.8" y="313.53" text-anchor="end">0.9</text><text x="29.8" y="293.00" text-anchor="end">1</text><text x="55.90" y="507" text-anchor="middle">50</text><text x="82.86" y="507" text-anchor="middle">100</text><text x="109.82" y="507" text-anchor="middle">150</text><text x="136.78" y="507" text-anchor="middle">200</text><text x="163.74" y="507" text-anchor="middle">250</text><text x="190.70" y="507" text-anchor="middle">300</text><text x="217.66" y="507" text-anchor="middle">350</text><text x="244.62" y="507" text-anchor="middle">400</text></g><text x="150.45" y="518" text-anchor="middle" style="font-family:'Liberation Sans',Arial,Helvetica,sans-serif;font-size:8.8px" fill="#262626">Samples</text><text transform="translate(13.6,392.6) rotate(-90)" text-anchor="middle" style="font-family:'Liberation Sans',Arial,Helvetica,sans-serif;font-size:8.95px" fill="#262626">Normalized Frequency (<tspan style="font-family:'Liberation Serif',serif;font-size:10.4px" dx="0.9">×</tspan><tspan style="font-family:'Liberation Serif',serif;font-size:10.4px" dx="1.2">π</tspan> radians/sample)</text><rect x="274.2" y="289.6" width="12.70" height="206.10" fill="url(#cb)" stroke="#262626" stroke-width="0.6"/><g stroke="#262626" stroke-width="0.6"><line x1="286.9" y1="294.40" x2="284.7" y2="294.40"/><line x1="286.9" y1="358.50" x2="284.7" y2="358.50"/><line x1="286.9" y1="422.60" x2="284.7" y2="422.60"/><line x1="286.9" y1="486.70" x2="284.7" y2="486.70"/></g><g style="font-family:'Liberation Sans',Arial,Helvetica,sans-serif;stroke:#262626;stroke-width:0.12px;font-size:7.2px" fill="#262626"><text x="289.9" y="297.00">0</text><text x="289.9" y="361.10">-50</text><text x="289.9" y="425.20">-100</text><text x="289.9" y="489.30">-150</text></g><text transform="translate(314.3,392.3) rotate(-90)" text-anchor="middle" style="font-family:'Liberation Sans',Arial,Helvetica,sans-serif;font-size:7.3px" fill="#262626">Power/frequency (dB/(rad/sample))</text><text x="165.6" y="541.5" text-anchor="middle" style="font-family:'Liberation Serif',serif;font-weight:bold;font-size:12.8px" fill="#000">(b)</text></g></svg>
</body></html>
